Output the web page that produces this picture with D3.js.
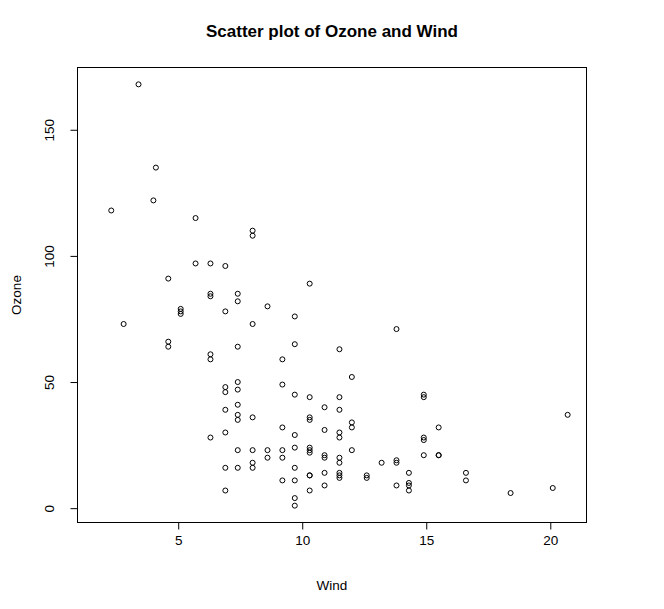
<!DOCTYPE html>
<html><head><meta charset="utf-8">
<script src="https://cdn.jsdelivr.net/npm/d3@7"></script>
<style>body{margin:0;background:#fff}svg{display:block}</style>
</head><body>
<script>
// airquality: Wind and Ozone (NA = null)
const wind = [7.4,8.0,12.6,11.5,14.3,14.9,8.6,13.8,20.1,8.6,6.9,9.7,9.2,10.9,13.2,11.5,12.0,18.4,11.5,9.7,9.7,16.6,9.7,12.0,16.6,14.9,8.0,12.0,14.9,5.7,7.4,8.6,9.7,16.1,9.2,8.6,14.3,9.7,6.9,13.8,11.5,10.9,9.2,8.0,13.8,11.5,14.9,20.7,9.2,11.5,10.3,6.3,1.7,4.6,6.3,8.0,8.0,10.3,11.5,14.9,8.0,4.1,9.2,9.2,10.9,4.6,10.9,5.1,6.3,5.7,7.4,8.6,14.3,14.9,14.9,14.3,6.9,10.3,6.3,5.1,11.5,6.9,9.7,11.5,8.6,8.0,8.6,12.0,7.4,7.4,7.4,9.2,6.9,13.8,7.4,6.9,7.4,4.6,4.0,10.3,8.0,8.6,11.5,11.5,11.5,9.7,11.5,10.3,6.3,7.4,10.9,10.3,15.5,14.3,12.6,9.7,3.4,8.0,5.7,9.7,2.3,6.3,6.3,6.9,5.1,2.8,4.6,7.4,15.5,10.9,10.3,10.9,9.7,14.9,15.5,6.3,10.9,11.5,6.9,13.8,10.3,10.3,8.0,12.6,9.2,10.3,10.3,16.6,6.9,13.2,14.3,8.0,11.5];
const ozone = [41,36,12,18,null,28,23,19,8,null,7,16,11,14,18,14,34,6,30,11,1,11,4,32,null,null,null,23,45,115,37,null,null,null,null,null,null,29,null,71,39,null,null,23,null,null,21,37,20,12,13,null,null,null,null,null,null,null,null,null,null,135,49,32,null,64,40,77,97,97,85,null,10,27,null,7,48,35,61,79,63,16,null,null,80,108,20,52,82,50,64,59,39,9,16,78,35,66,122,89,110,null,null,44,28,65,null,22,59,23,31,44,21,9,null,45,168,73,null,76,118,84,85,96,78,73,91,47,32,20,23,21,24,44,21,28,9,13,46,18,13,24,16,13,23,36,7,14,30,null,14,18,20];
const xTicks = [5,10,15,20];
const yTicks = [0,50,100,150];

const W = 664, H = 609;
const FONT = "Liberation Sans, Arial, sans-serif";
const svg = d3.select("body").append("svg").attr("width", W).attr("height", H)
  .style("font-family", FONT);

const pL = 77.5, pR = 586.5, pT = 67.5, pB = 522.5;
const xr = d3.extent(wind), yr = d3.extent(ozone.filter(v => v != null));
const xpad = (xr[1]-xr[0])*0.04, ypad = (yr[1]-yr[0])*0.04;
const x = d3.scaleLinear().domain([xr[0]-xpad, xr[1]+xpad]).range([pL, pR]);
const y = d3.scaleLinear().domain([yr[0]-ypad, yr[1]+ypad]).range([pB, pT]);

// box
svg.append("rect").attr("x", pL).attr("y", pT).attr("width", pR-pL).attr("height", pB-pT)
  .attr("fill", "none").attr("stroke", "#000").attr("stroke-width", 1);

// axes
const xAxis = d3.axisBottom(x).tickValues(xTicks).tickSize(7).tickPadding(6).tickFormat(d3.format("d"));
const gx = svg.append("g").attr("transform", `translate(0,${pB})`).call(xAxis);
gx.select(".domain").attr("d", `M${x(xTicks[0])},0H${x(xTicks[xTicks.length-1])}`);
gx.selectAll("text").attr("font-size", 13.5).attr("fill", "#000").style("font-family", FONT);

const yAxis = d3.axisLeft(y).tickValues(yTicks).tickSize(7).tickFormat(d3.format("d"));
const gy = svg.append("g").attr("transform", `translate(${pL},0)`).call(yAxis);
gy.select(".domain").attr("d", `M0,${y(yTicks[0])}V${y(yTicks[yTicks.length-1])}`);
gy.selectAll("text").attr("font-size", 13.5).attr("fill", "#000")
  .style("font-family", FONT)
  .attr("x", null).attr("dy", null)
  .attr("text-anchor", "middle")
  .attr("transform", "translate(-24,0) rotate(-90)");

// points
const pts = wind.map((w, i) => ({w, o: ozone[i]})).filter(d => d.o != null);
svg.append("g").selectAll("circle").data(pts).join("circle")
  .attr("cx", d => x(d.w)).attr("cy", d => y(d.o)).attr("r", 2.5)
  .attr("fill", "none").attr("stroke", "#000").attr("stroke-width", 1);

// titles
svg.append("text").attr("x", (pL+pR)/2).attr("y", 37).attr("text-anchor", "middle")
  .attr("font-size", 17).attr("font-weight", "bold").text("Scatter plot of Ozone and Wind");
svg.append("text").attr("x", (pL+pR)/2).attr("y", 590).attr("text-anchor", "middle")
  .attr("font-size", 13.5).text("Wind");
svg.append("text").attr("transform", `translate(21,${(pT+pB)/2}) rotate(-90)`).attr("text-anchor", "middle")
  .attr("font-size", 13.5).text("Ozone");
</script>
</body></html>
